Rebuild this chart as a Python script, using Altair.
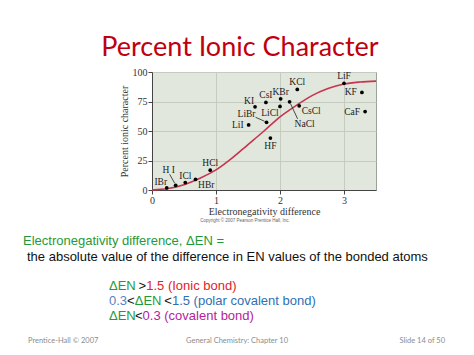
import altair as alt
import pandas as pd

# ---- chart data ----
compounds = ["IBr", "H I", "ICl", "HBr", "HCl", "LiI", "KI", "CsI", "LiBr", "HF",
             "KBr", "LiCl", "NaCl", "KCl", "CsCl", "LiF", "KF", "CaF"]
en_diff = [0.23, 0.37, 0.52, 0.68, 0.91, 1.51, 1.61, 1.78, 1.79, 1.85,
           2.01, 2.00, 2.15, 2.27, 2.30, 3.00, 3.28, 3.33]
pct_ionic = [1.7, 4.0, 6.3, 9.1, 16.8, 55.1, 70.5, 74.2, 57.4, 44.0,
             77.3, 70.8, 74.7, 85.2, 71.3, 90.4, 82.7, 66.5]
placement = ["upleft", "lead_ul", "above", "downright", "above", "left", "upleft", "above",
             "lead_l", "below", "above", "downleft", "lead_dr", "above", "downright",
             "above", "left", "left"]

curve_x = [0, 0.25, 0.5, 0.75, 1.0, 1.25, 1.5, 1.75, 2.0, 2.25, 2.5, 2.75, 3.0, 3.25, 3.5]
curve_y = [0, 1.2, 4.5, 10, 17, 27, 38.5, 50, 62, 71.5, 80, 86, 89.8, 91.5, 92.3]

x_ticks = [0, 1, 2, 3]
y_ticks = [0, 25, 50, 75, 100]

pts = pd.DataFrame({"name": compounds, "en": en_diff, "pct": pct_ionic, "place": placement})
curve = pd.DataFrame({"en": curve_x, "pct": curve_y})

# ---- layout ----
PL, PT, PW, PH = 152, 72, 224, 118
W, H = 474, 355
SERIF = "Liberation Serif"
SANS = "Liberation Sans"

xs = alt.Scale(domain=[0, 3.5], nice=False, zero=False)
ys = alt.Scale(domain=[0, 100], nice=False)

x_axis = alt.Axis(values=x_ticks, format="d", title="Electronegativity difference", labelFlush=False,
                  labelOverlap=False, grid=True, gridColor="#c4ccc0", tickSize=4, tickColor="#444",
                  domainColor="#444", labelFont=SERIF, labelFontSize=10, labelColor="#333",
                  labelPadding=1, titleFont=SERIF, titleFontSize=10, titleFontWeight="normal",
                  titleColor="#333", titlePadding=1)
y_axis = alt.Axis(values=y_ticks, format="d", title="Percent ionic character", grid=True,
                  labelOverlap=False, gridColor="#c4ccc0", tickSize=4, tickColor="#444",
                  domainColor="#444", labelFont=SERIF, labelFontSize=10, labelColor="#333",
                  labelPadding=1, titleFont=SERIF, titleFontSize=10, titleFontWeight="normal",
                  titleColor="#333", titlePadding=3)


def X():
    return alt.X("en:Q", scale=xs, axis=x_axis)


def Y():
    return alt.Y("pct:Q", scale=ys, axis=y_axis)


line = alt.Chart(curve).mark_line(color="#c8334f", strokeWidth=1.6, interpolate="monotone").encode(
    x=X(), y=Y()
)

dots = alt.Chart(pts).mark_circle(size=14, color="black", opacity=1).encode(x=X(), y=Y())

place_style = {
    "above": dict(dx=0, dy=-7, align="center"),
    "below": dict(dx=0, dy=8, align="center"),
    "left": dict(dx=-5, dy=0, align="right"),
    "upleft": dict(dx=-6, dy=-6, align="center"),
    "downright": dict(dx=2.5, dy=5.5, align="left"),
    "downleft": dict(dx=-10, dy=7, align="center"),
    "lead_ul": dict(dx=-7, dy=-15, align="center"),
    "lead_l": dict(dx=-20, dy=-8, align="center"),
    "lead_dr": dict(dx=15, dy=22, align="center"),
}
label_layers = []
for p, st in place_style.items():
    label_layers.append(
        alt.Chart(pts).transform_filter(alt.datum.place == p).mark_text(
            font=SERIF, fontSize=9.5, color="#222", baseline="middle", **st
        ).encode(x=X(), y=Y(), text="name:N")
    )

leader_style = {
    "lead_ul": dict(xOffset=-6, yOffset=-11, x2Offset=-1, y2Offset=-2),
    "lead_l": dict(xOffset=-11, yOffset=-5, x2Offset=-2, y2Offset=-1),
    "lead_dr": dict(xOffset=1, yOffset=2, x2Offset=8, y2Offset=17),
}
leader_layers = []
for p, st in leader_style.items():
    leader_layers.append(
        alt.Chart(pts).transform_filter(alt.datum.place == p).mark_rule(
            color="#222", strokeWidth=0.8, **st
        ).encode(x=X(), y=Y(), x2="en:Q", y2="pct:Q")
    )


def txt(s, x, y, color, size, font=SANS, align="left"):
    return alt.Chart(pd.DataFrame({"t": [s]})).mark_text(
        align=align, baseline="alphabetic", font=font, fontSize=size, color=color
    ).encode(text="t:N", x=alt.value(x - PL), y=alt.value(y - PT))


GREEN = "#1f9a3a"
RED = "#e0242a"
BLUE = "#2f6fb3"
BLUE2 = "#5b7fc0"
MAG = "#b5229c"
BLACK = "#111111"

slide = [
    txt("Percent Ionic Character", 240, 56, "#c0000f", 27, font="Lato", align="center"),
    txt("Copyright \u00a9 2007 Pearson Prentice Hall, Inc.", 245, 222, "#666666", 4.5, align="center"),
    txt("Electronegativity difference, \u0394EN =", 23, 245, GREEN, 13),
    txt("the absolute value of the difference in EN values of the bonded atoms", 27, 260.5, BLACK, 13),
    # line 1
    txt("\u0394EN", 109, 289.5, GREEN, 13),
    txt(">", 138.6, 289.5, BLACK, 13),
    txt("1.5 (Ionic bond)", 146.2, 289.5, RED, 13),
    # line 2
    txt("0.3", 109, 304.5, BLUE2, 13),
    txt("<", 127.1, 304.5, BLACK, 13),
    txt("\u0394EN", 134.7, 304.5, GREEN, 13),
    txt("<", 164.3, 304.5, BLACK, 13),
    txt("1.5 (polar covalent bond)", 171.9, 304.5, BLUE, 13),
    # line 3
    txt("\u0394EN", 109, 319.5, GREEN, 13),
    txt("<", 135, 319.5, BLACK, 13),
    txt("0.3 (covalent bond)", 142.6, 319.5, MAG, 13),
    # footer
    txt("Prentice-Hall \u00a9 2007", 28, 343, "#8c8c8c", 7.5, font="Lato"),
    txt("General Chemistry: Chapter 10", 237, 343, "#8c8c8c", 7.5, font="Lato", align="center"),
    txt("Slide 14 of 50", 445, 343, "#8c8c8c", 7.5, font="Lato", align="right"),
]

chart = alt.layer(line, *leader_layers, dots, *label_layers, *slide).properties(
    width=PW, height=PH,
    autosize=alt.AutoSizeParams(type="none"),
    padding={"left": PL, "top": PT, "right": W - PL - PW, "bottom": H - PT - PH},
    background="white",
).configure_view(fill="#e1e7dc", stroke="#9aa39a", strokeWidth=1)

chart.save("out.html", embed_options={"renderer": "svg", "actions": False})
